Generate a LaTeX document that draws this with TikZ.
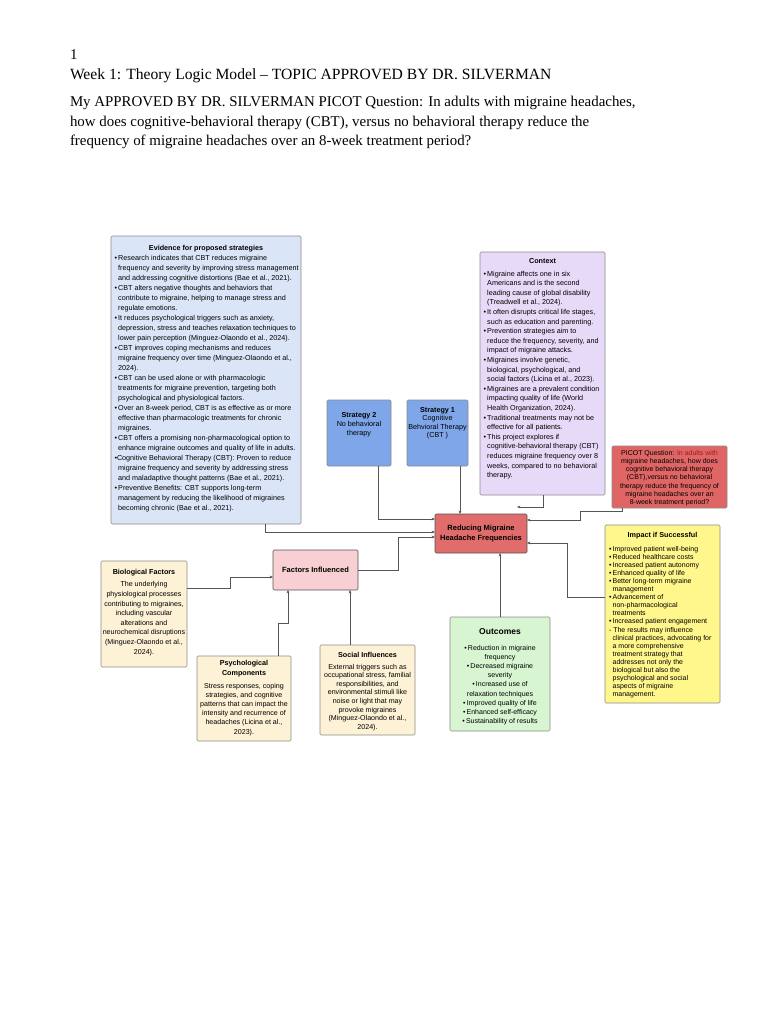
\documentclass[tikz,border=0pt]{standalone}
\usepackage{fontspec}
\setmainfont{Liberation Sans}
\newfontfamily\serifhd{Liberation Serif}
\usetikzlibrary{arrows.meta}
\definecolor{evfill}{HTML}{DAE5F7}
\definecolor{ctxfill}{HTML}{E7DAF8}
\definecolor{stfill}{HTML}{7EA6E8}
\definecolor{picfill}{HTML}{E06666}
\definecolor{redfill}{HTML}{E06C6C}
\definecolor{impfill}{HTML}{FFF68C}
\definecolor{begfill}{HTML}{FDF1D6}
\definecolor{facfill}{HTML}{F8CFD3}
\definecolor{outfill}{HTML}{D6F5D0}
\definecolor{bord}{HTML}{8C8C8C}
\definecolor{linec}{HTML}{555555}
\definecolor{pictext}{HTML}{9E1A1A}
\newcommand\cind{\hphantom{\textbullet\,}}
\newcommand\fs[2]{\fontsize{#1}{#2}\selectfont}
\begin{document}
\begin{tikzpicture}[x=1pt,y=-1pt,
  bx/.style={draw=bord, line width=0.6pt, rounded corners=1.2pt, anchor=north west, inner sep=0pt, outer sep=0pt},
  tx/.style={inner sep=0pt, outer sep=0pt},
  hd/.style={inner sep=0pt, outer sep=0pt, anchor=base west, font=\serifhd\fs{14.9}{19.5}},
  arr/.style={draw=linec, line width=0.55pt, -{Stealth[length=3.4pt,width=2.8pt]}}]
\fill[white] (0,0) rectangle (768,1024);
\useasboundingbox (0,0) rectangle (768,1024);

% header
\node[hd] (pg) at (70,60) {1};
\node[hd, font=\serifhd\fs{15.6}{19.5}] (wk) at (70,80) {Week 1: Theory Logic Model – TOPIC APPROVED BY DR. SILVERMAN};
\node[hd] (q1) at (70,107) {My APPROVED BY DR. SILVERMAN PICOT Question: In adults with migraine headaches,};
\node[hd] (q2) at (70,126.5) {how does cognitive-behavioral therapy (CBT), versus no behavioral therapy reduce the};
\node[hd] (q3) at (70,146) {frequency of migraine headaches over an 8-week treatment period?};

% boxes
\node[bx, fill=evfill, minimum width=190, minimum height=288] (ev) at (111,236) {};
\node[bx, fill=ctxfill, minimum width=125, minimum height=243] (ctx) at (480,252) {};
\node[bx, fill=stfill, minimum width=64, minimum height=66] (s2) at (327,400) {};
\node[bx, fill=stfill, minimum width=61, minimum height=66] (s1) at (407,400) {};
\node[bx, fill=picfill, minimum width=115, minimum height=62] (pic) at (612,446) {};
\node[bx, fill=redfill, draw=linec, minimum width=92, minimum height=39] (red) at (435,514) {};
\node[bx, fill=impfill, minimum width=115, minimum height=178] (imp) at (605,525) {};
\node[bx, fill=begfill, minimum width=86, minimum height=106] (bio) at (101,561) {};
\node[bx, fill=facfill, draw=linec, minimum width=85, minimum height=40] (fac) at (273,550) {};
\node[bx, fill=begfill, minimum width=94, minimum height=85] (psy) at (197,656) {};
\node[bx, fill=begfill, minimum width=95, minimum height=90] (soc) at (320,645) {};
\node[bx, fill=outfill, minimum width=100, minimum height=114] (out) at (450,617) {};

% texts
\node[tx, anchor=base, font=\bfseries\fs{7.2}{9}] (evh) at (206,250.5) {Evidence for proposed strategies};
\node[tx, anchor=north west, align=left, font=\fs{7.2}{10}] (evb) at (114.5,255.2) {%
\textbullet\,Research indicates that CBT reduces migraine\\
\cind frequency and severity by improving stress management\\
\cind and addressing cognitive distortions (Bae et al., 2021).\\
\textbullet\,CBT alters negative thoughts and behaviors that\\
\cind contribute to migraine, helping to manage stress and\\
\cind regulate emotions.\\
\textbullet\,It reduces psychological triggers such as anxiety,\\
\cind depression, stress and teaches relaxation techniques to\\
\cind lower pain perception (Minguez-Olaondo et al., 2024).\\
\textbullet\,CBT improves coping mechanisms and reduces\\
\cind migraine frequency over time (Minguez-Olaondo et al.,\\
\cind 2024).\\
\textbullet\,CBT can be used alone or with pharmacologic\\
\cind treatments for migraine prevention, targeting both\\
\cind psychological and physiological factors.\\
\textbullet\,Over an 8-week period, CBT is as effective as or more\\
\cind effective than pharmacologic treatments for chronic\\
\cind migraines.\\
\textbullet\,CBT offers a promising non-pharmacological option to\\
\cind enhance migraine outcomes and quality of life in adults.\\
\textbullet Cognitive Behavioral Therapy (CBT): Proven to reduce\\
\cind migraine frequency and severity by addressing stress\\
\cind and maladaptive thought patterns (Bae et al., 2021).\\
\textbullet\,Preventive Benefits: CBT supports long-term\\
\cind management by reducing the likelihood of migraines\\
\cind becoming chronic (Bae et al., 2021).};

\node[tx, anchor=base, font=\bfseries\fs{7.2}{9}] (ctxh) at (542.5,263.5) {Context};
\node[tx, anchor=north west, align=left, font=\fs{7.2}{9.6}] (ctxb) at (483.5,270.8) {%
\textbullet\,Migraine affects one in six\\
\cind Americans and is the second\\
\cind leading cause of global disability\\
\cind (Treadwell et al., 2024).\\
\textbullet\,It often disrupts critical life stages,\\
\cind such as education and parenting.\\
\textbullet\,Prevention strategies aim to\\
\cind reduce the frequency, severity, and\\
\cind impact of migraine attacks.\\
\textbullet\,Migraines involve genetic,\\
\cind biological, psychological, and\\
\cind social factors (Licina et al., 2023).\\
\textbullet\,Migraines are a prevalent condition\\
\cind impacting quality of life (World\\
\cind Health Organization, 2024).\\
\textbullet\,Traditional treatments may not be\\
\cind effective for all patients.\\
\textbullet\,This project explores if\\
\cind cognitive-behavioral therapy (CBT)\\
\cind reduces migraine frequency over 8\\
\cind weeks, compared to no behavioral\\
\cind therapy.};

\node[tx, anchor=north, align=center, font=\fs{7.2}{9}] (s2t) at (359,412) {\textbf{Strategy 2}\\No behavioral\\therapy};
\node[tx, anchor=north, align=center, font=\fs{7.2}{8.6}] (s1t) at (437.5,407) {\textbf{Strategy 1}\\Cognitive\\Behvioral Therapy\\(CBT )};

\node[tx, anchor=north, align=center, font=\fs{7}{8.3}] (pict) at (669.5,450) {PICOT Question: \color{pictext}In adults with\\migraine headaches, how does\\cognitive behavioral therapy\\(CBT),versus no behavioral\\therapy reduce the frequency of\\migraine headaches over an\\8-week treatment period?};

\node[tx, align=center, font=\bfseries\fs{7.5}{10}] (redt) at (481,533.5) {Reducing Migraine\\Headache Frequencies};

\node[tx, anchor=base, font=\bfseries\fs{7.2}{9}] (imph) at (662.5,537.5) {Impact if Successful};
\node[tx, anchor=north west, align=left, font=\fs{7}{8.1}] (impb) at (609,546) {%
\textbullet\,Improved patient well-being\\
\textbullet\,Reduced healthcare costs\\
\textbullet\,Increased patient autonomy\\
\textbullet\,Enhanced quality of life\\
\textbullet\,Better long-term migraine\\
\cind management\\
\textbullet\,Advancement of\\
\cind non-pharmacological\\
\cind treatments\\
\textbullet\,Increased patient engagement\\
- The results may influence\\
\cind clinical practices, advocating for\\
\cind a more comprehensive\\
\cind treatment strategy that\\
\cind addresses not only the\\
\cind biological but also the\\
\cind psychological and social\\
\cind aspects of migraine\\
\cind management.};

\node[tx, anchor=base, font=\bfseries\fs{7.2}{9}] (bioh) at (144,574) {Biological Factors};
\node[tx, anchor=north, align=center, font=\fs{7.1}{9.6}] (biob) at (144,581.8) {The underlying\\physiological processes\\contributing to migraines,\\including vascular\\alterations and\\neurochemical disruptions\\(Minguez-Olaondo et al.,\\2024).};

\node[tx, font=\bfseries\fs{7.5}{9}] (fact) at (315.5,570) {Factors Influenced};

\node[tx, anchor=north, align=center, font=\bfseries\fs{7.2}{10}] (psyh) at (244,660) {Psychological\\Components};
\node[tx, anchor=north, align=center, font=\fs{7.1}{9.2}] (psyb) at (244,683) {Stress responses, coping\\strategies, and cognitive\\patterns that can impact the\\intensity and recurrence of\\headaches (Licina et al.,\\2023).};

\node[tx, anchor=base, font=\bfseries\fs{7.2}{9}] (soch) at (367.5,657.5) {Social Influences};
\node[tx, anchor=north, align=center, font=\fs{7.1}{8.6}] (socb) at (367.5,664) {External triggers such as\\occupational stress, familial\\responsibilities, and\\environmental stimuli like\\noise or light that may\\provoke migraines\\(Minguez-Olaondo et al.,\\2024).};

\node[tx, anchor=base, font=\bfseries\fs{8.5}{10}] (outh) at (500,634) {Outcomes};
\node[tx, anchor=north, align=center, font=\fs{7}{9.2}] (outb) at (500,645) {\textbullet\,Reduction in migraine\\frequency\\\textbullet\,Decreased migraine\\severity\\\textbullet\,Increased use of\\relaxation techniques\\\textbullet\,Improved quality of life\\\textbullet\,Enhanced self-efficacy\\\textbullet\,Sustainability of results};

% connectors
\coordinate (e1) at (265,532);
\draw[arr] (e1 |- ev.south) -- (e1) -- (e1 -| red.west);
\coordinate (s2b) at (378,519);
\draw[arr] (s2b |- s2.south) -- (s2b) -- (s2b -| red.west);
\coordinate (s1b) at (460,0);
\draw[arr] (s1b |- s1.south) -- (s1b |- red.north);
\coordinate (cb) at (543,507);
\coordinate (cend) at (517,507);
\draw[arr] (cb |- ctx.south) -- (cb) -- (cend);
\coordinate (p1) at (622,511);
\coordinate (p2) at (580,511);
\coordinate (p3) at (580,520);
\draw[arr] (p1 |- pic.south) -- (p1) -- (p2) -- (p3) -- (p3 -| red.east);
\coordinate (i1) at (567,597);
\coordinate (i2) at (567,543);
\draw[arr] (i1 -| imp.west) -- (i1) -- (i2) -- (i2 -| red.east);
\coordinate (o1) at (500,0);
\draw[arr] (o1 |- out.north) -- (o1 |- red.south);
\coordinate (f1) at (398,537);
\draw[arr] (fac.east) -| (f1) -- (f1 -| red.west);
\coordinate (b1) at (230,588);
\coordinate (b2) at (230,577);
\draw[arr] (b1 -| bio.east) -- (b1) -- (b2) -- (b2 -| fac.west);
\coordinate (r1) at (278,623);
\coordinate (r2) at (288,623);
\draw[arr] (r1 |- psy.north) -- (r1) -- (r2) -- (r2 |- fac.south);
\coordinate (t1) at (350,0);
\draw[arr] (t1 |- soc.north) -- (t1 |- fac.south);
\end{tikzpicture}
\end{document}
